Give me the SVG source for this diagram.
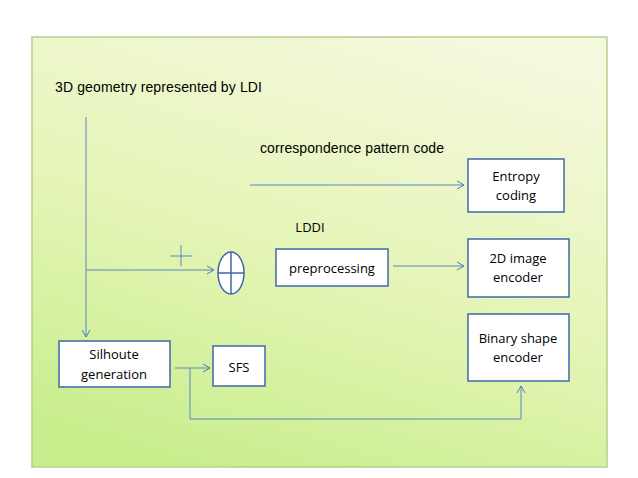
<svg xmlns="http://www.w3.org/2000/svg" width="638" height="478" viewBox="0 0 638 478">
<defs>
<linearGradient id="bg" x1="0.7" y1="0" x2="0.3" y2="1">
<stop offset="0" stop-color="#f4f8dc"/>
<stop offset="0.5" stop-color="#e6f5b8"/>
<stop offset="1" stop-color="#c9ee8e"/>
</linearGradient>
<marker id="ar" markerWidth="10" markerHeight="10" refX="8" refY="5" orient="auto" markerUnits="userSpaceOnUse">
<path d="M1,1 L8,5 L1,9" fill="none" stroke="#4a7ebb" stroke-width="1"/>
</marker>
<style>
.box{fill:#fff;stroke:#3e6aa8;stroke-width:1.5}
.ln{fill:none;stroke:#5b87c5;stroke-width:1}
.t{font-family:"Liberation Sans",Arial,sans-serif;font-size:14px;fill:#000}
.c{font-family:"Open Sans","Liberation Sans",sans-serif;font-size:13px;fill:#000;text-anchor:middle}
</style>
</defs>
<rect width="638" height="478" fill="#fff"/>
<rect x="32" y="37" width="575" height="430" fill="url(#bg)" stroke="#b3cf8c" stroke-width="1.5"/>
<text class="t" x="55" y="92" textLength="207">3D geometry represented by LDI</text>
<text class="t" x="260" y="153" textLength="184">correspondence pattern code</text>
<text class="c" x="310" y="232">LDDI</text>
<g id="connectors">
<line class="ln" x1="86" y1="117" x2="86" y2="337" marker-end="url(#ar)"/>
<line class="ln" x1="86" y1="270" x2="214" y2="270" marker-end="url(#ar)"/>
<line class="ln" x1="250" y1="185" x2="464" y2="185" marker-end="url(#ar)"/>
<line class="ln" x1="393" y1="266" x2="464" y2="266" marker-end="url(#ar)"/>
<line class="ln" x1="175" y1="368" x2="210" y2="368" marker-end="url(#ar)"/>
<polyline class="ln" points="190,368 190,419 521,419 521,386" marker-end="url(#ar)"/>
<line class="ln" x1="170" y1="256" x2="192" y2="256"/>
<line class="ln" x1="181" y1="245" x2="181" y2="266"/>
</g>
<g id="sum">
<ellipse cx="231" cy="273" rx="13" ry="21" fill="#fff" stroke="#3e6aa8" stroke-width="1.5"/>
<line x1="231" y1="252" x2="231" y2="294" stroke="#3e6aa8" stroke-width="1.5"/>
<line x1="218" y1="273" x2="244" y2="273" stroke="#3e6aa8" stroke-width="1.5"/>
</g>
<g id="entropy"><rect class="box" x="468" y="159" width="96" height="53"/><text class="c" x="516" y="181">Entropy</text><text class="c" x="516" y="200">coding</text></g>
<g id="preprocessing"><rect class="box" x="276" y="249" width="112" height="37"/><text class="c" x="332" y="273">preprocessing</text></g>
<g id="encoder2d"><rect class="box" x="468" y="239" width="101" height="58"/><text class="c" x="518" y="263">2D image</text><text class="c" x="518" y="282">encoder</text></g>
<g id="binary"><rect class="box" x="468" y="314" width="101" height="67"/><text class="c" x="518" y="343">Binary shape</text><text class="c" x="518" y="362">encoder</text></g>
<g id="silhoute"><rect class="box" x="59" y="341" width="111" height="46"/><text class="c" x="114" y="359">Silhoute</text><text class="c" x="114" y="379">generation</text></g>
<g id="sfs"><rect class="box" x="213" y="346" width="52" height="40"/><text class="c" x="239" y="372">SFS</text></g>
</svg>
